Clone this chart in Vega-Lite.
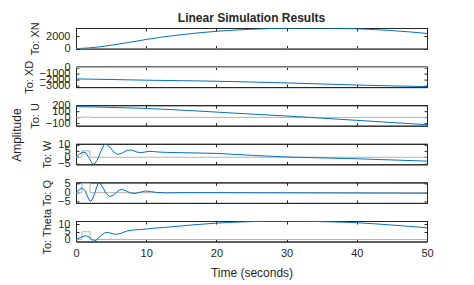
{
  "$schema": "https://vega.github.io/schema/vega-lite/v6.json",
  "background": "white",
  "padding": {"left": 10, "top": 11, "right": 5, "bottom": 5},
  "title": {"text": "Amplitude", "orient": "left", "anchor": "middle", "frame": "bounds", "font": "Liberation Sans", "fontSize": 12, "fontWeight": "normal", "color": "#262626", "offset": -1, "dx": 10},
  "datasets": {
    "inp": [
      {"i": 0, "t": 0, "v": 0}, {"i": 1, "t": 0.85, "v": 0}, {"i": 2, "t": 0.85, "v": 5},
      {"i": 3, "t": 2.0, "v": 5}, {"i": 4, "t": 2.0, "v": 0}, {"i": 5, "t": 50, "v": 0}
    ],
    "out": [
      {"s": "XN", "t": 0, "v": 0}, {"s": "XN", "t": 1, "v": 30}, {"s": "XN", "t": 2, "v": 110}, {"s": "XN", "t": 3, "v": 230}, {"s": "XN", "t": 4, "v": 380}, {"s": "XN", "t": 5, "v": 540}, {"s": "XN", "t": 7.5, "v": 1000}, {"s": "XN", "t": 10, "v": 1500}, {"s": "XN", "t": 12.5, "v": 1930}, {"s": "XN", "t": 15, "v": 2290}, {"s": "XN", "t": 17.5, "v": 2600}, {"s": "XN", "t": 20, "v": 2850}, {"s": "XN", "t": 22.5, "v": 3040}, {"s": "XN", "t": 25, "v": 3190}, {"s": "XN", "t": 27.5, "v": 3300}, {"s": "XN", "t": 30, "v": 3360}, {"s": "XN", "t": 32.5, "v": 3385}, {"s": "XN", "t": 35, "v": 3380}, {"s": "XN", "t": 37.5, "v": 3340}, {"s": "XN", "t": 40, "v": 3270}, {"s": "XN", "t": 42.5, "v": 3140}, {"s": "XN", "t": 45, "v": 2970}, {"s": "XN", "t": 47.5, "v": 2750}, {"s": "XN", "t": 50, "v": 2500},
      {"s": "XD", "t": 0, "v": -1860}, {"s": "XD", "t": 5, "v": -1960}, {"s": "XD", "t": 10, "v": -2070}, {"s": "XD", "t": 15, "v": -2150}, {"s": "XD", "t": 20, "v": -2240}, {"s": "XD", "t": 25, "v": -2370}, {"s": "XD", "t": 30, "v": -2520}, {"s": "XD", "t": 35, "v": -2690}, {"s": "XD", "t": 40, "v": -2860}, {"s": "XD", "t": 45, "v": -3000}, {"s": "XD", "t": 50, "v": -3120},
      {"s": "U", "t": 0, "v": 180}, {"s": "U", "t": 2.5, "v": 176}, {"s": "U", "t": 5, "v": 167}, {"s": "U", "t": 7.5, "v": 160}, {"s": "U", "t": 10, "v": 150}, {"s": "U", "t": 12.5, "v": 137}, {"s": "U", "t": 15, "v": 122}, {"s": "U", "t": 17.5, "v": 106}, {"s": "U", "t": 20, "v": 89}, {"s": "U", "t": 22.5, "v": 72}, {"s": "U", "t": 25, "v": 56}, {"s": "U", "t": 27.5, "v": 39}, {"s": "U", "t": 30, "v": 23}, {"s": "U", "t": 32.5, "v": 5}, {"s": "U", "t": 35, "v": -13}, {"s": "U", "t": 37.5, "v": -31}, {"s": "U", "t": 40, "v": -50}, {"s": "U", "t": 42.5, "v": -68}, {"s": "U", "t": 45, "v": -87}, {"s": "U", "t": 47.5, "v": -105}, {"s": "U", "t": 50, "v": -123},
      {"s": "W", "t": 0, "v": 0}, {"s": "W", "t": 0.5, "v": 2.5}, {"s": "W", "t": 1.0, "v": 4}, {"s": "W", "t": 1.4, "v": 3.5}, {"s": "W", "t": 1.8, "v": 0}, {"s": "W", "t": 2.3, "v": -5}, {"s": "W", "t": 2.6, "v": -5.4}, {"s": "W", "t": 3.0, "v": -2.5}, {"s": "W", "t": 3.5, "v": 4}, {"s": "W", "t": 4.0, "v": 10}, {"s": "W", "t": 4.3, "v": 10.3}, {"s": "W", "t": 4.8, "v": 8}, {"s": "W", "t": 5.3, "v": 4.5}, {"s": "W", "t": 5.9, "v": 2.2}, {"s": "W", "t": 6.5, "v": 3}, {"s": "W", "t": 7.3, "v": 5.5}, {"s": "W", "t": 7.9, "v": 5.6}, {"s": "W", "t": 8.7, "v": 4}, {"s": "W", "t": 9.3, "v": 3.6}, {"s": "W", "t": 10.4, "v": 4.6}, {"s": "W", "t": 11.2, "v": 4.4}, {"s": "W", "t": 12, "v": 4}, {"s": "W", "t": 13, "v": 3.8}, {"s": "W", "t": 15, "v": 3.6}, {"s": "W", "t": 20, "v": 3}, {"s": "W", "t": 25, "v": 1.5}, {"s": "W", "t": 30, "v": 0.2}, {"s": "W", "t": 35, "v": -0.5}, {"s": "W", "t": 40, "v": -1.2}, {"s": "W", "t": 45, "v": -2.1}, {"s": "W", "t": 50, "v": -3},
      {"s": "Q", "t": 0, "v": 0}, {"s": "Q", "t": 0.5, "v": 1.8}, {"s": "Q", "t": 0.9, "v": 2.6}, {"s": "Q", "t": 1.3, "v": 1}, {"s": "Q", "t": 1.7, "v": -2.5}, {"s": "Q", "t": 2.0, "v": -4.8}, {"s": "Q", "t": 2.3, "v": -4}, {"s": "Q", "t": 2.7, "v": 0}, {"s": "Q", "t": 3.1, "v": 4.8}, {"s": "Q", "t": 3.4, "v": 5.2}, {"s": "Q", "t": 3.8, "v": 3}, {"s": "Q", "t": 4.3, "v": -0.5}, {"s": "Q", "t": 4.8, "v": -2.2}, {"s": "Q", "t": 5.3, "v": -1.5}, {"s": "Q", "t": 6.0, "v": 1}, {"s": "Q", "t": 6.5, "v": 1.8}, {"s": "Q", "t": 7.0, "v": 1.2}, {"s": "Q", "t": 7.8, "v": -0.2}, {"s": "Q", "t": 8.4, "v": -0.5}, {"s": "Q", "t": 9.2, "v": 0.3}, {"s": "Q", "t": 9.9, "v": 0.9}, {"s": "Q", "t": 10.6, "v": 0.6}, {"s": "Q", "t": 11.5, "v": 0.1}, {"s": "Q", "t": 13, "v": -0.1}, {"s": "Q", "t": 15, "v": 0}, {"s": "Q", "t": 20, "v": 0}, {"s": "Q", "t": 30, "v": -0.1}, {"s": "Q", "t": 40, "v": -0.2}, {"s": "Q", "t": 50, "v": -0.3},
      {"s": "Theta", "t": 0, "v": 0}, {"s": "Theta", "t": 0.7, "v": 1.5}, {"s": "Theta", "t": 1.4, "v": 2.5}, {"s": "Theta", "t": 1.9, "v": 1.5}, {"s": "Theta", "t": 2.5, "v": -1.1}, {"s": "Theta", "t": 2.9, "v": -0.5}, {"s": "Theta", "t": 3.5, "v": 2.5}, {"s": "Theta", "t": 4.2, "v": 4.6}, {"s": "Theta", "t": 4.8, "v": 4.3}, {"s": "Theta", "t": 5.6, "v": 3.3}, {"s": "Theta", "t": 6.4, "v": 4}, {"s": "Theta", "t": 7.3, "v": 5.6}, {"s": "Theta", "t": 8.2, "v": 6.2}, {"s": "Theta", "t": 9, "v": 6.4}, {"s": "Theta", "t": 10, "v": 6.8}, {"s": "Theta", "t": 11, "v": 7.3}, {"s": "Theta", "t": 12.5, "v": 7.8}, {"s": "Theta", "t": 15, "v": 8.8}, {"s": "Theta", "t": 17.5, "v": 9.8}, {"s": "Theta", "t": 20, "v": 10.6}, {"s": "Theta", "t": 22.5, "v": 11.2}, {"s": "Theta", "t": 25, "v": 11.6}, {"s": "Theta", "t": 27.5, "v": 11.85}, {"s": "Theta", "t": 30, "v": 11.9}, {"s": "Theta", "t": 32.5, "v": 11.8}, {"s": "Theta", "t": 35, "v": 11.6}, {"s": "Theta", "t": 37.5, "v": 11.3}, {"s": "Theta", "t": 40, "v": 10.9}, {"s": "Theta", "t": 42.5, "v": 10.2}, {"s": "Theta", "t": 45, "v": 9.4}, {"s": "Theta", "t": 47.5, "v": 8.5}, {"s": "Theta", "t": 50, "v": 7.6}
    ]
  },
  "vconcat": [
    {
      "title": {"text": "Linear Simulation Results", "frame": "group", "anchor": "middle", "font": "Liberation Sans", "fontSize": 12, "fontWeight": "bold", "color": "#262626", "offset": -3},
      "width": 351, "height": 20.5,
      "layer": [
        {"data": {"name": "inp"}, "mark": {"type": "line", "color": "#b3b3b3", "strokeWidth": 1, "clip": true},
          "encoding": {"order": {"field": "i", "type": "quantitative"},
            "x": {"field": "t", "type": "quantitative", "scale": {"domain": [0, 50], "nice": false}, "axis": {"orient": "bottom", "labels": false, "title": null, "values": [0, 10, 20, 30, 40, 50]}},
            "y": {"field": "v", "type": "quantitative", "scale": {"domain": [0, 3400], "nice": false, "zero": false}, "axis": {"orient": "left", "title": "To: XN", "values": [0, 2000]}}}},
        {"data": {"name": "out"}, "transform": [{"filter": "datum.s === 'XN'"}], "mark": {"type": "line", "color": "#0072BD", "strokeWidth": 1, "clip": true},
          "encoding": {
            "x": {"field": "t", "type": "quantitative", "axis": {"orient": "top", "labels": false, "title": null, "values": [0, 10, 20, 30, 40, 50]}},
            "y": {"field": "v", "type": "quantitative", "axis": {"orient": "right", "labels": false, "title": null, "values": [0, 2000]}}}}
      ],
      "resolve": {"axis": {"x": "independent", "y": "independent"}}
    },
    {
      "width": 351, "height": 20.5,
      "layer": [
        {"data": {"name": "inp"}, "mark": {"type": "line", "color": "#b3b3b3", "strokeWidth": 1, "clip": true},
          "encoding": {"order": {"field": "i", "type": "quantitative"},
            "x": {"field": "t", "type": "quantitative", "scale": {"domain": [0, 50], "nice": false}, "axis": {"orient": "bottom", "labels": false, "title": null, "values": [0, 10, 20, 30, 40, 50]}},
            "y": {"field": "v", "type": "quantitative", "scale": {"domain": [-3200, 150], "nice": false, "zero": false}, "axis": {"orient": "left", "title": "To: XD", "values": [0, -1000, -2000, -3000]}}}},
        {"data": {"name": "out"}, "transform": [{"filter": "datum.s === 'XD'"}], "mark": {"type": "line", "color": "#0072BD", "strokeWidth": 1, "clip": true},
          "encoding": {
            "x": {"field": "t", "type": "quantitative", "axis": {"orient": "top", "labels": false, "title": null, "values": [0, 10, 20, 30, 40, 50]}},
            "y": {"field": "v", "type": "quantitative", "axis": {"orient": "right", "labels": false, "title": null, "values": [0, -1000, -2000, -3000]}}}}
      ],
      "resolve": {"axis": {"x": "independent", "y": "independent"}}
    },
    {
      "width": 351, "height": 20.5,
      "layer": [
        {"data": {"name": "inp"}, "mark": {"type": "line", "color": "#b3b3b3", "strokeWidth": 1, "clip": true},
          "encoding": {"order": {"field": "i", "type": "quantitative"},
            "x": {"field": "t", "type": "quantitative", "scale": {"domain": [0, 50], "nice": false}, "axis": {"orient": "bottom", "labels": false, "title": null, "values": [0, 10, 20, 30, 40, 50]}},
            "y": {"field": "v", "type": "quantitative", "scale": {"domain": [-140, 205], "nice": false, "zero": false}, "axis": {"orient": "left", "title": "To: U", "values": [200, 100, 0, -100]}}}},
        {"data": {"name": "out"}, "transform": [{"filter": "datum.s === 'U'"}], "mark": {"type": "line", "color": "#0072BD", "strokeWidth": 1, "clip": true},
          "encoding": {
            "x": {"field": "t", "type": "quantitative", "axis": {"orient": "top", "labels": false, "title": null, "values": [0, 10, 20, 30, 40, 50]}},
            "y": {"field": "v", "type": "quantitative", "axis": {"orient": "right", "labels": false, "title": null, "values": [200, 100, 0, -100]}}}}
      ],
      "resolve": {"axis": {"x": "independent", "y": "independent"}}
    },
    {
      "width": 351, "height": 20.5,
      "layer": [
        {"data": {"name": "inp"}, "mark": {"type": "line", "color": "#b3b3b3", "strokeWidth": 1, "clip": true},
          "encoding": {"order": {"field": "i", "type": "quantitative"},
            "x": {"field": "t", "type": "quantitative", "scale": {"domain": [0, 50], "nice": false}, "axis": {"orient": "bottom", "labels": false, "title": null, "values": [0, 10, 20, 30, 40, 50]}},
            "y": {"field": "v", "type": "quantitative", "scale": {"domain": [-5.5, 10.5], "nice": false, "zero": false}, "axis": {"orient": "left", "title": "To: W", "values": [10, 5, 0, -5]}}}},
        {"data": {"name": "out"}, "transform": [{"filter": "datum.s === 'W'"}], "mark": {"type": "line", "color": "#0072BD", "strokeWidth": 1, "clip": true},
          "encoding": {
            "x": {"field": "t", "type": "quantitative", "axis": {"orient": "top", "labels": false, "title": null, "values": [0, 10, 20, 30, 40, 50]}},
            "y": {"field": "v", "type": "quantitative", "axis": {"orient": "right", "labels": false, "title": null, "values": [10, 5, 0, -5]}}}}
      ],
      "resolve": {"axis": {"x": "independent", "y": "independent"}}
    },
    {
      "width": 351, "height": 20.5,
      "layer": [
        {"data": {"name": "inp"}, "mark": {"type": "line", "color": "#b3b3b3", "strokeWidth": 1, "clip": true},
          "encoding": {"order": {"field": "i", "type": "quantitative"},
            "x": {"field": "t", "type": "quantitative", "scale": {"domain": [0, 50], "nice": false}, "axis": {"orient": "bottom", "labels": false, "title": null, "values": [0, 10, 20, 30, 40, 50]}},
            "y": {"field": "v", "type": "quantitative", "scale": {"domain": [-5.6, 5.6], "nice": false, "zero": false}, "axis": {"orient": "left", "title": "To: Q", "values": [5, 0, -5]}}}},
        {"data": {"name": "out"}, "transform": [{"filter": "datum.s === 'Q'"}], "mark": {"type": "line", "color": "#0072BD", "strokeWidth": 1, "clip": true},
          "encoding": {
            "x": {"field": "t", "type": "quantitative", "axis": {"orient": "top", "labels": false, "title": null, "values": [0, 10, 20, 30, 40, 50]}},
            "y": {"field": "v", "type": "quantitative", "axis": {"orient": "right", "labels": false, "title": null, "values": [5, 0, -5]}}}}
      ],
      "resolve": {"axis": {"x": "independent", "y": "independent"}}
    },
    {
      "width": 351, "height": 20.5,
      "layer": [
        {"data": {"name": "inp"}, "mark": {"type": "line", "color": "#b3b3b3", "strokeWidth": 1, "clip": true},
          "encoding": {"order": {"field": "i", "type": "quantitative"},
            "x": {"field": "t", "type": "quantitative", "scale": {"domain": [0, 50], "nice": false}, "axis": {"orient": "bottom", "labels": true, "title": "Time (seconds)", "values": [0, 10, 20, 30, 40, 50]}},
            "y": {"field": "v", "type": "quantitative", "scale": {"domain": [-1.3, 12], "nice": false, "zero": false}, "axis": {"orient": "left", "title": "To: Theta", "values": [10, 5, 0]}}}},
        {"data": {"name": "out"}, "transform": [{"filter": "datum.s === 'Theta'"}], "mark": {"type": "line", "color": "#0072BD", "strokeWidth": 1, "clip": true},
          "encoding": {
            "x": {"field": "t", "type": "quantitative", "axis": {"orient": "top", "labels": false, "title": null, "values": [0, 10, 20, 30, 40, 50]}},
            "y": {"field": "v", "type": "quantitative", "axis": {"orient": "right", "labels": false, "title": null, "values": [10, 5, 0]}}}}
      ],
      "resolve": {"axis": {"x": "independent", "y": "independent"}}
    }
  ],
  "spacing": 17.6,
  "bounds": "flush",
  "config": {
    "view": {"stroke": "#262626", "strokeWidth": 1},
    "axis": {
      "grid": false,
      "tickSize": -3,
      "labelPadding": 9,
      "domainColor": "#262626",
      "tickColor": "#262626",
      "labelColor": "#262626",
      "titleColor": "#262626",
      "labelFont": "Liberation Sans",
      "titleFont": "Liberation Sans",
      "labelFontSize": 11,
      "titleFontSize": 11,
      "titleFontWeight": "normal",
      "labelOverlap": false,
      "labelFlush": false,
      "titlePadding": 5,
      "format": "d"
    },
    "axisX": {"titleFontSize": 12, "titlePadding": 9}
  }
}
